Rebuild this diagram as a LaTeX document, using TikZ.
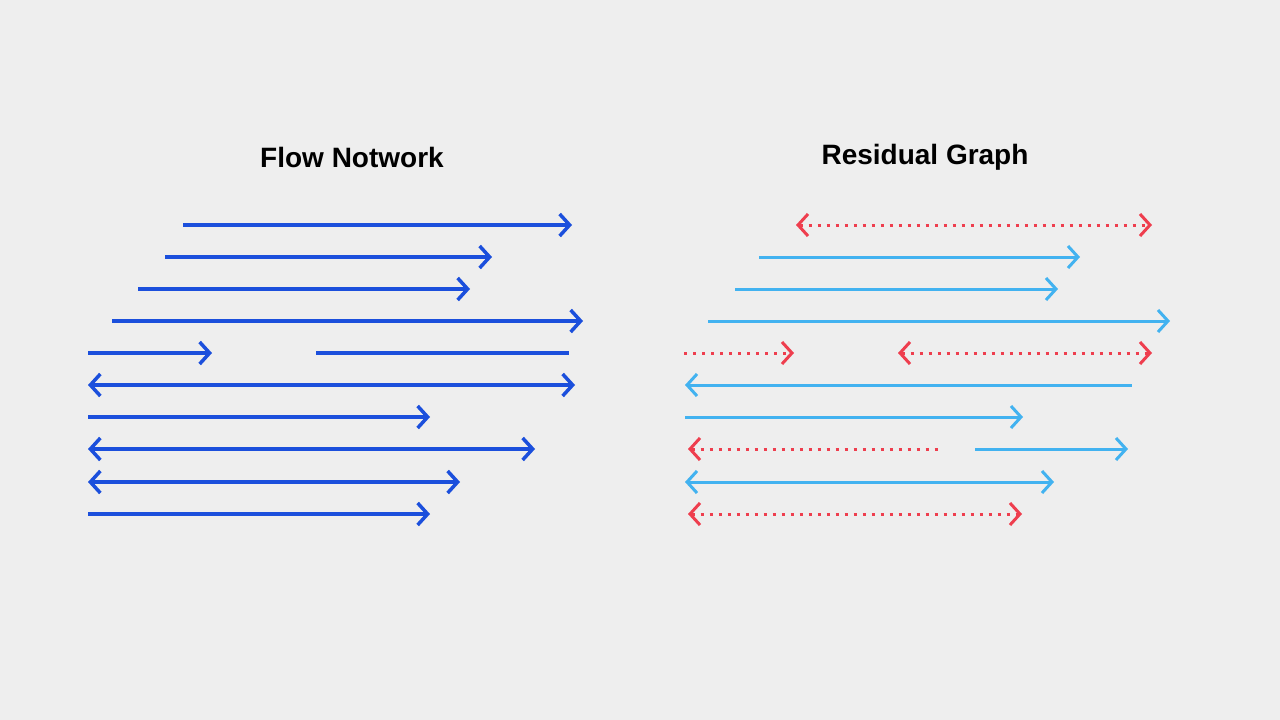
\documentclass[tikz,border=0pt]{standalone}
\usepackage{fontspec}
\setmainfont{Liberation Sans}
\usetikzlibrary{arrows.meta}
\definecolor{bgc}{HTML}{EEEEEE}
\definecolor{flowc}{HTML}{1B4FDC}
\definecolor{resc}{HTML}{42B2F0}
\definecolor{backc}{HTML}{EE3E4E}
\tikzset{
	flow/.style={draw=flowc, line width=4pt, >={Straight Barb[length=10pt,width=22pt,line width=3.5pt]}},
	res/.style={draw=resc, line width=3pt, >={Straight Barb[length=10pt,width=22pt,line width=3pt]}},
	back/.style={draw=backc, line width=3pt, dash pattern=on 3pt off 6pt, >={Straight Barb[length=10pt,width=22pt,line width=3pt]}},
	heading/.style={font=\bfseries\fontsize{28}{32}\selectfont}
}
\begin{document}
\begin{tikzpicture}[x=1pt,y=-1pt]
	\fill[bgc] (0,0) rectangle (1280,720);
	\useasboundingbox (0,0) rectangle (1280,720);
	\node[heading] (flowtitle) at (352,157) {Flow Notwork};
	\node[heading] (restitle) at (925,157) {Residual Graph};
	% flow network
	\draw[flow,->] (183,225) -- (572,225);
	\draw[flow,->] (165,257) -- (492,257);
	\draw[flow,->] (138,289) -- (470,289);
	\draw[flow,->] (112,321) -- (583,321);
	\draw[flow,->] (88,353) -- (212,353);
	\draw[flow,-] (316,353) -- (569,353);
	\draw[flow,<->] (88,385) -- (575,385);
	\draw[flow,->] (88,417) -- (430,417);
	\draw[flow,<->] (88,449) -- (535,449);
	\draw[flow,<->] (88,482) -- (460,482);
	\draw[flow,->] (88,514) -- (430,514);
	% residual graph
	\draw[back,<->] (796,225) -- (1152,225);
	\draw[res,->] (759,257) -- (1080,257);
	\draw[res,->] (735,289) -- (1058,289);
	\draw[res,->] (708,321) -- (1170,321);
	\draw[back,->] (684,353) -- (794,353);
	\draw[back,<->] (898,353) -- (1152,353);
	\draw[res,<-] (685,385) -- (1132,385);
	\draw[res,->] (685,417) -- (1023,417);
	\draw[back,<-] (688,449) -- (940,449);
	\draw[res,->] (975,449) -- (1128,449);
	\draw[res,<->] (685,482) -- (1054,482);
	\draw[back,<->] (688,514) -- (1022,514);
\end{tikzpicture}
\end{document}
